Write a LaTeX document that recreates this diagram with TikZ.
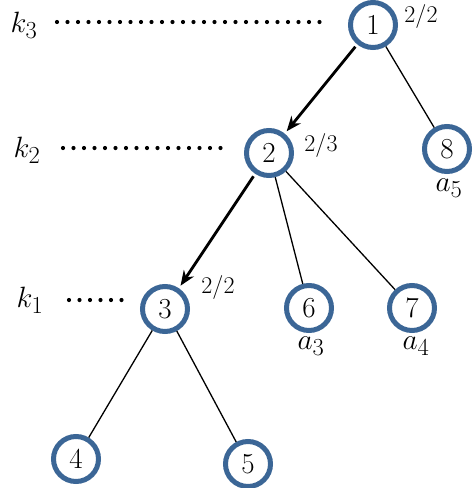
\documentclass[tikz,border=0pt]{standalone}
\usetikzlibrary{arrows.meta}
\definecolor{nodeblue}{HTML}{3B6696}
\newcommand{\biglabel}[1]{\scalebox{1.18}{$#1$}}
\tikzset{
  treenode/.style={circle, draw=nodeblue, line width=5pt, minimum size=45pt, inner sep=0pt, fill=white, font=\fontsize{29}{32}\selectfont},
  ratio/.style={font=\fontsize{24}{26}\selectfont},
  levellabel/.style={font=\fontsize{24.88}{28}\selectfont},
  leaflabel/.style={font=\fontsize{24.88}{28}\selectfont},
  levelline/.style={line width=4.2pt, line cap=round, dash pattern=on 0pt off 10.5pt},
  pathedge/.style={line width=2.8pt, -{Stealth[length=15pt,width=12pt]}, shorten <=3pt, shorten >=3pt},
  thinedge/.style={line width=1.3pt}
}
\begin{document}
\begin{tikzpicture}[x=1pt, y=-1pt]
        \useasboundingbox (0,0) rectangle (474,488);

        % Nodes
        \node[treenode] (n1) at (373,25) {1};
        \node[treenode] (n2) at (269,153) {2};
        \node[treenode] (n8) at (447,149) {8};
        \node[treenode] (n3) at (165,309) {3};
        \node[treenode] (n6) at (309,308) {6};
        \node[treenode] (n7) at (412,308) {7};
        \node[treenode] (n4) at (76,459) {4};
        \node[treenode] (n5) at (248,464) {5};

        % Counts next to the visited nodes
        \node[ratio] (r1) at (421,16) {2/2};
        \node[ratio] (r2) at (321,145) {2/3};
        \node[ratio] (r3) at (218,287) {2/2};

        % Leaf labels
        \node[leaflabel] (l5) at (449,188) {\biglabel{a_5}};
        \node[leaflabel] (l3) at (311,346) {\biglabel{a_3}};
        \node[leaflabel] (l4) at (416,346) {\biglabel{a_4}};

        % Levels
        \node[levellabel] (k3) at (24,25) {\biglabel{k_3}};
        \node[levellabel] (k2) at (27,150) {\biglabel{k_2}};
        \node[levellabel] (k1) at (30,300) {\biglabel{k_1}};
        \coordinate (e3) at (320,22);
        \coordinate (e2) at (223,148);
        \coordinate (e1) at (129,300);
        \draw[levelline] (57,22) coordinate (s3) -- (e3);
        \draw[levelline] (63,148) coordinate (s2) -- (e2);
        \draw[levelline] (69,300) coordinate (s1) -- (e1);

        % Edges
        \draw[pathedge] (n1) -- (n2);
        \draw[pathedge] (n2) -- (n3);
        \draw[thinedge] (n1) -- (n8);
        \draw[thinedge] (n2) -- (n6);
        \draw[thinedge] (n2) -- (n7);
        \draw[thinedge] (n3) -- (n4);
        \draw[thinedge] (n3) -- (n5);
    \end{tikzpicture}
\end{document}
